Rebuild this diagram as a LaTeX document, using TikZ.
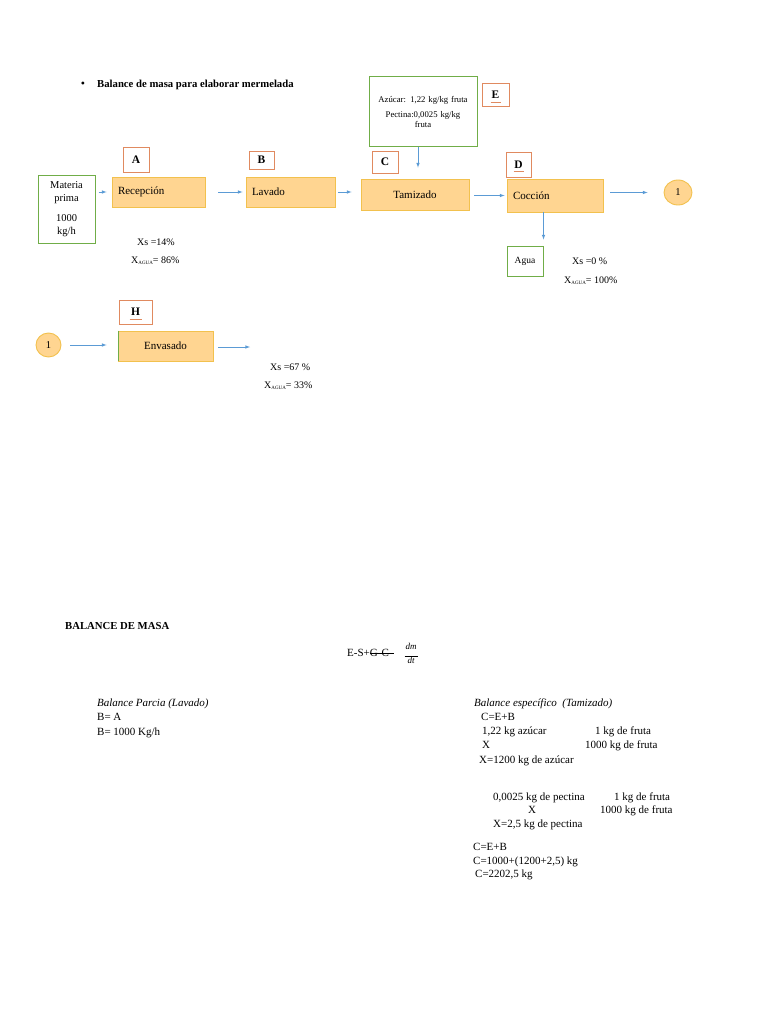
\documentclass[tikz,border=0pt]{standalone}
\usepackage{fontspec}
\setmainfont{Liberation Serif}
\usepackage{tikz}
\usetikzlibrary{arrows,shapes.geometric}
\definecolor{boxfill}{HTML}{FFD591}
\definecolor{boxline}{HTML}{F2C14E}
\definecolor{tagline}{HTML}{E08A60}
\definecolor{inline}{HTML}{70AD47}
\definecolor{flowblue}{HTML}{5B9BD5}
\newcommand{\xagua}{X\raisebox{-1pt}{\fontsize{5}{5}\selectfont AGUA}}

\begin{document}
\begin{tikzpicture}[x=1pt, y=-1pt,
  etapa/.style={draw=boxline, fill=boxfill, line width=0.9pt, minimum height=30pt, inner ysep=0pt, font=\fontsize{11}{12}\selectfont},
  etiqueta/.style={draw=tagline, line width=0.9pt, inner sep=0pt, font=\bfseries\fontsize{11.5}{12}\selectfont},
  entrada/.style={draw=inline, line width=1pt, inner sep=0pt, align=center},
  flujo/.style={-latex, draw=flowblue, line width=0.6pt},
  nota/.style={anchor=west, inner sep=0pt, font=\fontsize{10}{11}\selectfont},
  texto/.style={anchor=west, inner sep=0pt, text height=1.5ex, text depth=.3ex, font=\fontsize{11}{12}\selectfont}]
\useasboundingbox[fill=white] (0,0) rectangle (768,1024);

% Title of the flow diagram
\node[inner sep=0pt] (bala) at (83,85) {\fontsize{12}{12}\selectfont •};
\node[anchor=west, inner sep=0pt, font=\bfseries\fontsize{10.7}{12}\selectfont] (titulo) at (97,85) {Balance de masa para elaborar mermelada};

% Process stages, first row
\node[entrada, minimum width=57pt, minimum height=67pt, font=\fontsize{10.5}{13}\selectfont] (materia) at (66.5,209.5) {Materia\\prima\\[7pt]1000\\kg/h};
\node[etapa, text width=81pt, inner xsep=6pt, align=left] (recep) at (158.5,192) {Recepción};
\node[etapa, text width=77pt, inner xsep=6pt, align=left] (lavado) at (290.5,192) {Lavado};
\node[etapa, text width=100pt, inner xsep=4pt, minimum height=31pt, align=center] (tamiz) at (415,194.5) {Tamizado};
\node[etapa, text width=84pt, inner xsep=6pt, minimum height=33pt, align=left] (coccion) at (555,195.5) {Cocción};
\node[ellipse, draw=boxline, fill=boxfill, line width=0.9pt, minimum width=28pt, minimum height=25pt, inner sep=0pt, font=\fontsize{10.5}{11}\selectfont] (uno) at (678,192.5) {1};
\node[entrada, minimum width=108pt, minimum height=70pt, text width=104pt, font=\fontsize{8.7}{10}\selectfont] (azucar) at (423,112) {Azúcar: 1,22 kg/kg fruta\\[5pt]Pectina:0,0025 kg/kg\\fruta};
\node[entrada, minimum width=36pt, minimum height=30pt, font=\fontsize{9.5}{10}\selectfont] (agua) at (525,261) {Agua};

% Stage letters
\node[etiqueta, minimum width=26pt, minimum height=25pt] (tagA) at (136,159.5) {A};
\node[etiqueta, minimum width=25pt, minimum height=18pt] (tagB) at (261.5,160) {B};
\node[etiqueta, minimum width=26pt, minimum height=22pt] (tagC) at (385,162) {C};
\node[etiqueta, minimum width=25pt, minimum height=25pt] (tagD) at (518.5,164.5) {D};
\node[etiqueta, minimum width=27pt, minimum height=23pt] (tagE) at (495.5,94.5) {E};
\draw[tagline, line width=0.6pt] ([xshift=-5pt,yshift=-6.5pt]tagD.center) -- ([xshift=5pt,yshift=-6.5pt]tagD.center);
\draw[tagline, line width=0.6pt] ([xshift=-5pt,yshift=-7.5pt]tagE.center) -- ([xshift=5pt,yshift=-7.5pt]tagE.center);

% Flow arrows, first row
\draw[flujo, shorten <=3pt, shorten >=5pt] (materia.east |- recep) -- (recep.west);
\draw[flujo, shorten <=13pt, shorten >=3pt] (recep.east) -- (lavado.west);
\draw[flujo, shorten <=3pt, shorten >=9pt] (lavado.east) -- (lavado.east -| tamiz.west);
\draw[flujo, shorten <=5pt, shorten >=2pt] (tamiz.east |- coccion.west) -- (coccion.west);
\draw[flujo, shorten <=7pt, shorten >=16pt] (coccion.east |- uno) -- (uno.west);
\draw[flujo, shorten >=11pt] ([xshift=-5pt]azucar.south) -- ([xshift=-5pt]azucar.south |- tamiz.north);
\draw[flujo, shorten >=6pt] (coccion.south -| agua.north east) -- (agua.north east);

% Compositions
\node[nota] (xsA) at (137,242) {Xs =14\%};
\node[nota] (xaA) at (131,261) {\xagua= 86\%};
\node[nota] (xsD) at (572,261) {Xs =0 \%};
\node[nota] (xaD) at (564,281) {\xagua=\ 100\%};

% Second row
\node[ellipse, draw=boxline, fill=boxfill, line width=0.9pt, minimum width=25pt, minimum height=24pt, inner sep=0pt, font=\fontsize{10.5}{11}\selectfont] (unoB) at (48.5,345) {1};
\node[etiqueta, minimum width=33pt, minimum height=24pt] (tagH) at (135.5,312) {H};
\draw[tagline, line width=0.6pt] ([xshift=-6pt,yshift=-7pt]tagH.center) -- ([xshift=6pt,yshift=-7pt]tagH.center);
\node[etapa, text width=87pt, inner xsep=4pt, align=center] (envasado) at (165.5,346) {Envasado};
\draw[inline, line width=1pt] ([xshift=1pt]envasado.north west) -- ([xshift=1pt]envasado.south west);
\coordinate (salida) at (250,347);
\draw[flujo, shorten <=9pt, shorten >=11pt] (unoB.east) -- (unoB.east -| envasado.west);
\draw[flujo, shorten <=5pt] (envasado.east |- salida) -- (salida);
\node[nota] (xsH) at (270,367) {Xs =67 \%};
\node[nota] (xaH) at (264,386) {\xagua= 33\%};

% Mass balance text
\node[anchor=west, inner sep=0pt, font=\bfseries\fontsize{10.7}{12}\selectfont] (balance) at (65,626) {BALANCE DE MASA};
\node[texto] (ecuacion) at (347,654) {E-S+\rlap{\rule[3.2pt]{24pt}{0.5pt}}G-C};
\node[inner sep=0pt, align=center, font=\itshape\fontsize{9}{8}\selectfont] (derivada) at (411,653.5) {dm\\[-1pt]\rule{13pt}{0.4pt}\\[-1pt]dt};

\node[texto, font=\itshape\fontsize{11}{12}\selectfont] (parcial) at (97,704) {Balance Parcia (Lavado)};
\node[texto] (p1) at (97,718) {B= A};
\node[texto] (p2) at (97,733) {B= 1000 Kg/h};

\node[texto, font=\itshape\fontsize{11}{12}\selectfont] (especif) at (474,704) {Balance específico\ \ (Tamizado)};
\node[texto] (e1) at (481,718) {C=E+B};
\node[texto] (e2) at (482,732) {1,22 kg azúcar};
\node[texto] (e3) at (595,732) {1 kg de fruta};
\node[texto] (e4) at (482,746) {X};
\node[texto] (e5) at (585,746) {1000 kg de fruta};
\node[texto] (e6) at (479,761) {X=1200 kg de azúcar};
\node[texto] (e7) at (493,798) {0,0025 kg de pectina};
\node[texto] (e8) at (614,798) {1 kg de fruta};
\node[texto] (e9) at (528,811) {X};
\node[texto] (e10) at (600,811) {1000 kg de fruta};
\node[texto] (e11) at (493,825) {X=2,5 kg de pectina};
\node[texto] (e12) at (473,848) {C=E+B};
\node[texto] (e13) at (473,862) {C=1000+(1200+2,5) kg};
\node[texto] (e14) at (475,875) {C=2202,5 kg};
\end{tikzpicture}
\end{document}
